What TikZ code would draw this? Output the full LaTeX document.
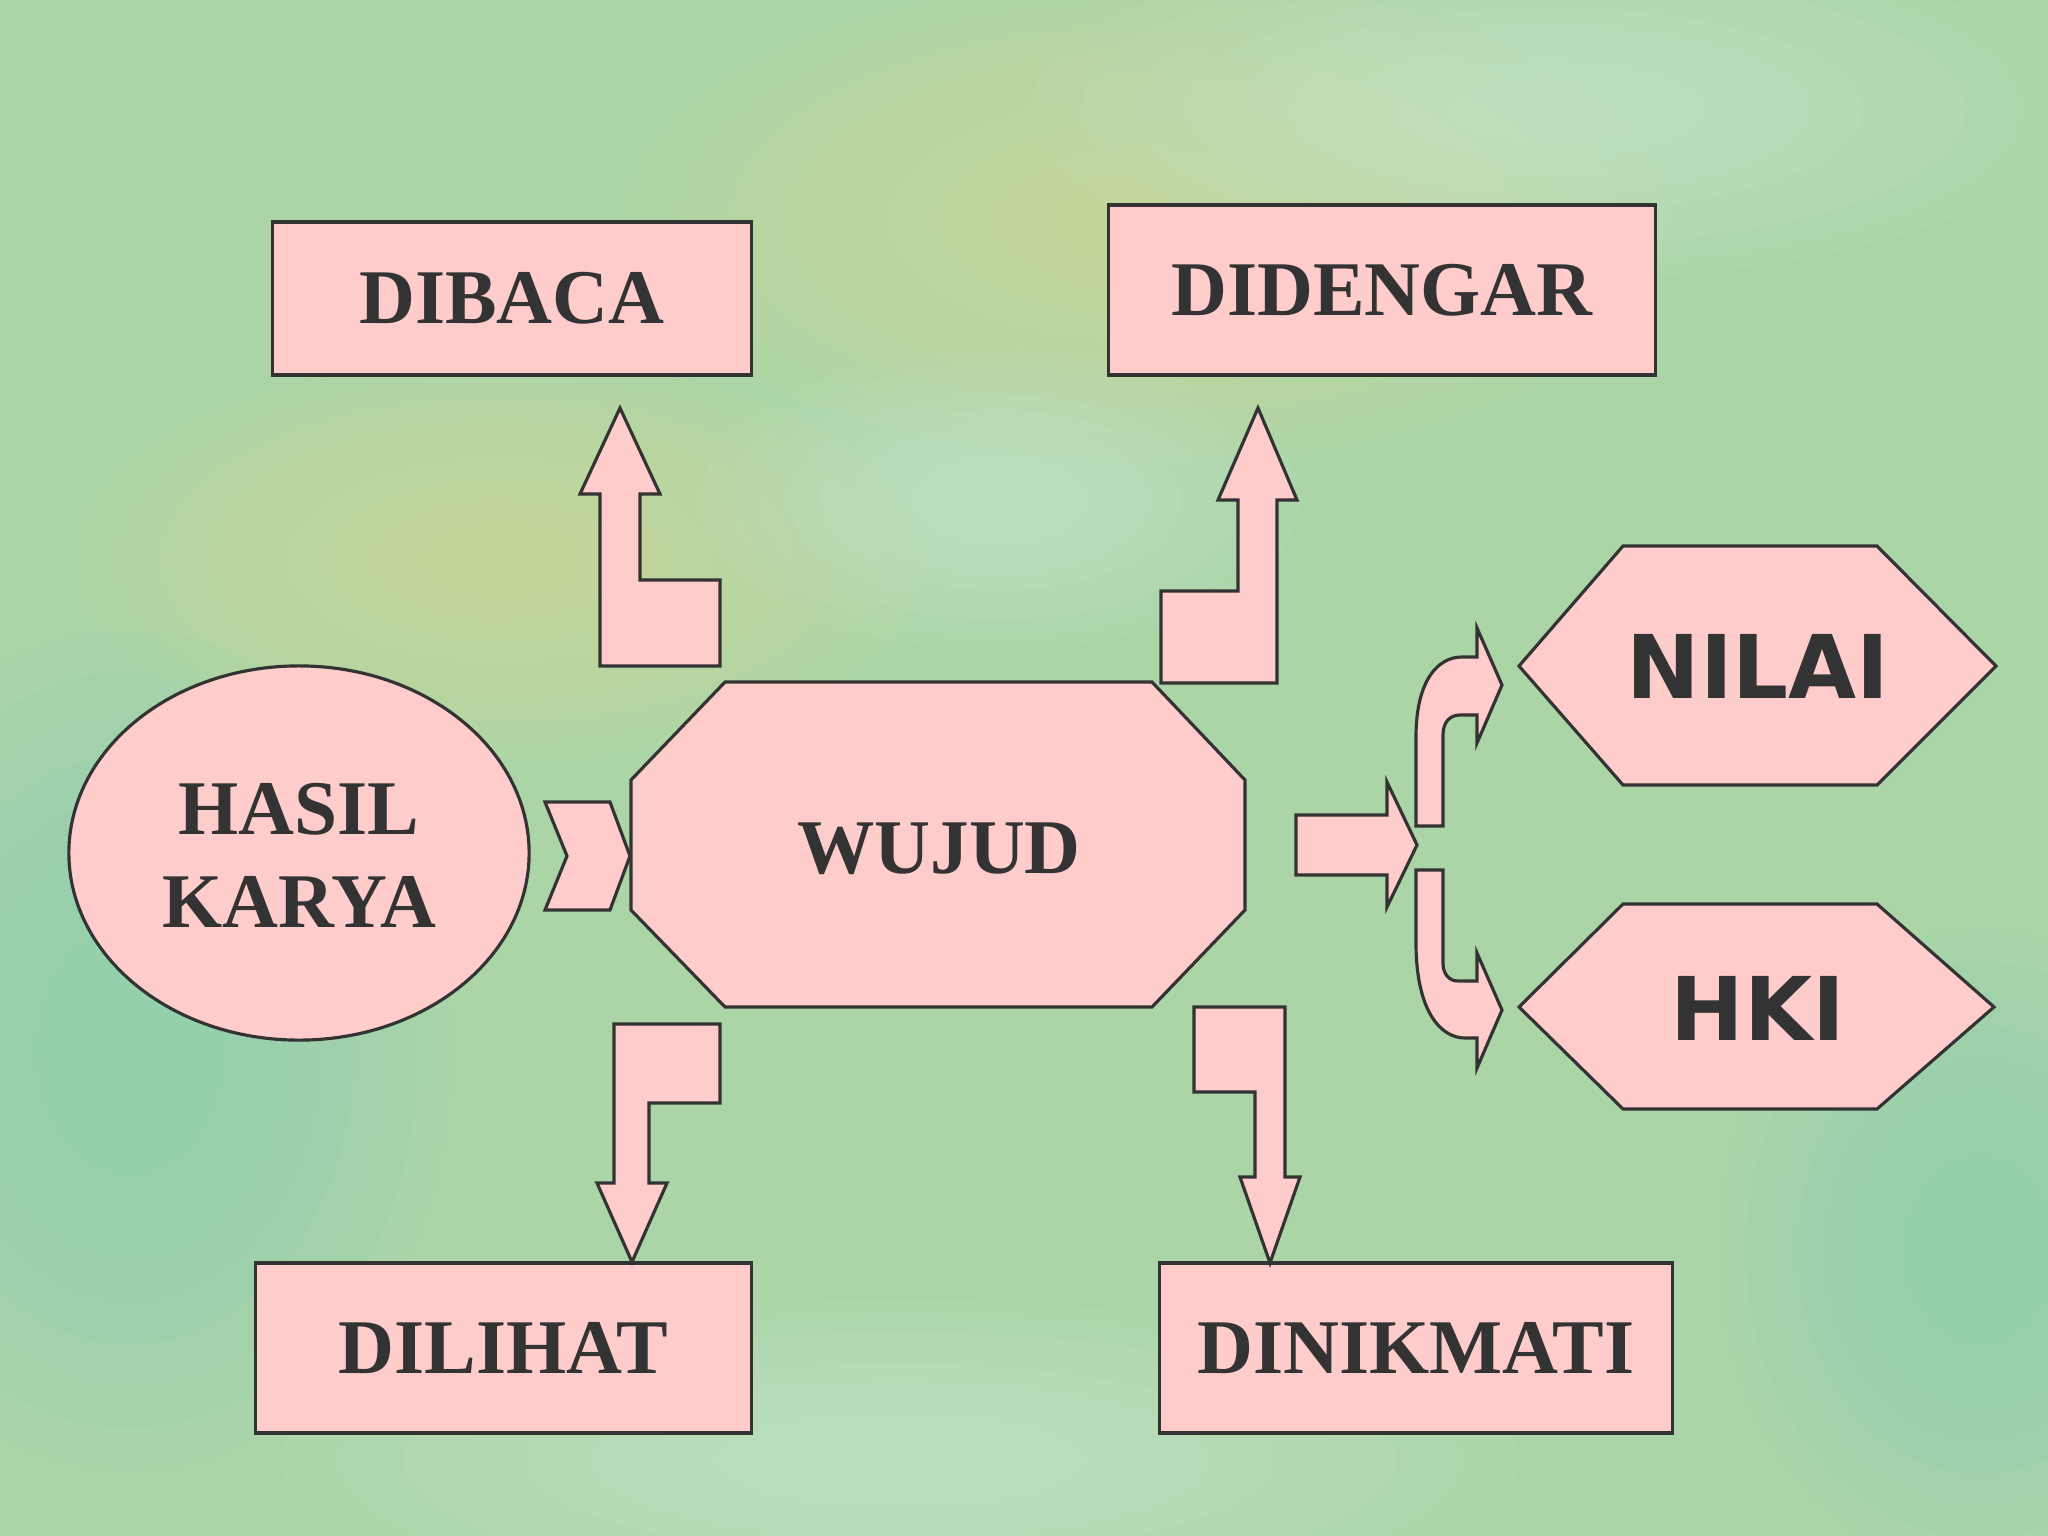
\documentclass[tikz,border=0pt]{standalone}
\usepackage{fontspec}
\setmainfont{Liberation Serif}
\newfontfamily\dvs{DejaVu Sans}
\usetikzlibrary{shapes.geometric}
\definecolor{bgbase}{HTML}{ABD5A7}
\definecolor{bgyel}{HTML}{D6DE98}
\definecolor{bgteal}{HTML}{8CD0B4}
\definecolor{bglight}{HTML}{C8E6CC}
\definecolor{pinkfill}{HTML}{FFCCCC}
\definecolor{inkgray}{HTML}{333333}
\tikzset{
  shapestyle/.style={fill=pinkfill, draw=inkgray, line width=0.9pt, line join=miter},
  boxnode/.style={shapestyle, rectangle, inner sep=0pt, text=inkgray,
    font=\fontsize{22}{26.5}\selectfont\bfseries},
  seriflabel/.style={text=inkgray, font=\fontsize{22}{26.5}\selectfont\bfseries, align=center, inner sep=0pt},
  sanslabel/.style={text=inkgray, font=\dvs\fontsize{25}{30}\selectfont\bfseries, inner sep=0pt},
  blockarrow/.style={shapestyle}
}
\newcommand{\softpatch}[5]{% color, cx, cy, rx, ry
  \foreach \s in {1,0.9,...,0.15}{
    \fill[#1, opacity=0.10] (#2,#3) ellipse ({#4*\s} and {#5*\s});
  }}
\begin{document}
\begin{tikzpicture}[x=0.01cm,y=-0.01cm]
\useasboundingbox (0,0) rectangle (2048,1536);
% background
\fill[bgbase] (0,0) rectangle (2048,1536);
\softpatch{bgyel}{1150}{220}{520}{240}
\softpatch{bgyel}{500}{560}{420}{200}
\softpatch{bglight}{1550}{110}{520}{170}
\softpatch{bgteal}{130}{1050}{320}{420}
\softpatch{bgteal}{1980}{1250}{260}{320}
\softpatch{bglight}{900}{1460}{620}{160}
\softpatch{bglight}{1000}{500}{300}{150}

% rectangles
\node[boxnode, minimum width=4.78cm, minimum height=1.53cm] (dibaca) at (512,298.5) {DIBACA};
\node[boxnode, minimum width=5.46cm, minimum height=1.70cm] (didengar) at (1382,290) {DIDENGAR};
\node[boxnode, minimum width=4.95cm, minimum height=1.70cm] (dilihat) at (503.5,1348) {DILIHAT};
\node[boxnode, minimum width=5.12cm, minimum height=1.70cm] (dinikmati) at (1416,1348) {DINIKMATI};

% ellipse
\node[shapestyle, ellipse, minimum width=4.6cm, minimum height=3.74cm, inner sep=0pt] (hasil) at (299,853) {};
\node[seriflabel] (hasiltext) at (299,855) {HASIL\\KARYA};

% octagon WUJUD
\draw[shapestyle] (725,682) -- (1152,682) -- (1245,780) -- (1245,910) -- (1152,1007) -- (725,1007) -- (631,910) -- (631,780) -- cycle;
\node[seriflabel] (wujud) at (939,849) {WUJUD};

% hexagons
\draw[shapestyle] (1519,666) -- (1623,546) -- (1877,546) -- (1996,666) -- (1877,785) -- (1623,785) -- cycle;
\node[sanslabel] (nilai) at (1758,666) {NILAI};
\draw[shapestyle] (1519,1007) -- (1623,904) -- (1877,904) -- (1994,1007) -- (1877,1109) -- (1623,1109) -- cycle;
\node[sanslabel] (hki) at (1758,1008) {HKI};

% block arrows
\draw[blockarrow] (620,408) -- (660,494) -- (640,494) -- (640,580) -- (720,580) -- (720,666) -- (600,666) -- (600,494) -- (580,494) -- cycle;
\draw[blockarrow] (1258,408) -- (1297,500) -- (1277,500) -- (1277,683) -- (1161,683) -- (1161,591) -- (1238,591) -- (1238,500) -- (1218,500) -- cycle;
\draw[blockarrow] (614,1024) -- (720,1024) -- (720,1103) -- (649,1103) -- (649,1183) -- (667,1183) -- (632,1262) -- (597,1183) -- (614,1183) -- cycle;
\draw[blockarrow] (1194,1007) -- (1285,1007) -- (1285,1177) -- (1300,1177) -- (1270,1263) -- (1240,1177) -- (1255,1177) -- (1255,1092) -- (1194,1092) -- cycle;
% chevron
\draw[blockarrow] (545,802) -- (610,802) -- (630,856) -- (610,910) -- (545,910) -- (567,856) -- cycle;
% right arrow
\draw[blockarrow] (1296,815) -- (1387,815) -- (1387,782) -- (1417,845) -- (1387,907) -- (1387,875) -- (1296,875) -- cycle;
% curved up arrow
\draw[blockarrow] (1416,826) -- (1416,737) .. controls (1416,680) and (1438,657) .. (1462,657) -- (1477,657) -- (1477,628) -- (1502,685) -- (1477,743) -- (1477,715) -- (1460,715) .. controls (1450,715) and (1443,722) .. (1443,735) -- (1443,826) -- cycle;
% curved down arrow
\draw[blockarrow] (1416,870) -- (1416,943) .. controls (1416,1010) and (1440,1038) .. (1465,1038) -- (1477,1038) -- (1477,1068) -- (1502,1010) -- (1477,953) -- (1477,981) -- (1458,981) .. controls (1449,981) and (1443,974) .. (1443,963) -- (1443,870) -- cycle;
\end{tikzpicture}
\end{document}
